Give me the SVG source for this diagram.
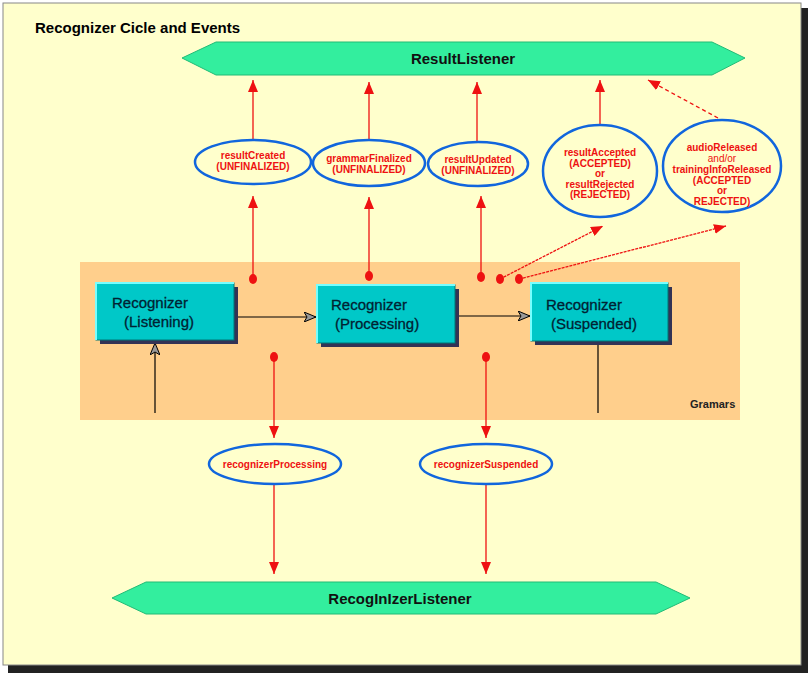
<svg xmlns="http://www.w3.org/2000/svg" width="810" height="675" viewBox="0 0 810 675">
<style>
text{font-family:"Liberation Sans",Arial,sans-serif;font-weight:bold}
.ev{fill:#fff;fill-opacity:0;stroke:#1166dd;stroke-width:2.5}
.evt{fill:#ee1111;font-size:10px;text-anchor:middle}
.red{stroke:#ee1111;stroke-width:1.3;fill:none}
.blk{stroke:#000;stroke-width:1.2;fill:none}
.box{fill:#00c8c8;stroke:#007777;stroke-width:1}
.bt{font-size:15px;fill:#002233;font-weight:normal;stroke:#002233;stroke-width:0.3}
.hex{fill:#33ee9e;stroke:#22bb77}
</style>
<defs>
<marker id="ra" markerWidth="12" markerHeight="10" refX="12" refY="5" orient="auto" markerUnits="userSpaceOnUse" viewBox="0 0 12 10"><path d="M0,0 L12,5 L0,10 Z" fill="#ee1111"/></marker>
<marker id="ba" markerWidth="12" markerHeight="10" refX="12" refY="5" orient="auto" markerUnits="userSpaceOnUse" viewBox="0 0 12 10"><path d="M0,0 L12,5 L0,10 L3,5 Z" fill="#999" stroke="#000" stroke-width="1"/></marker>
</defs>
<rect x="0" y="0" width="810" height="675" fill="#fff"/>
<rect x="8" y="8" width="800" height="665" fill="#222"/>
<rect x="3" y="3" width="798" height="662" fill="#ffffcc" stroke="#888" stroke-width="1"/>
<text x="35" y="33" font-size="15" fill="#000">Recognizer Cicle and Events</text>
<rect x="80" y="262" width="660" height="158" fill="#ffcf8c"/>
<text x="690" y="408" font-size="11" fill="#222">Gramars</text>
<g id="resultListener"><polygon class="hex" points="182,58 216,42 712,42 745,58 712,75 216,75"/><text x="463" y="64" font-size="15" text-anchor="middle" fill="#111">ResultListener</text></g>
<g id="recognizerListener"><polygon class="hex" points="112,598 146,582 656,582 690,598 656,614 146,614"/><text x="400" y="604" font-size="15" text-anchor="middle" fill="#111">RecogInIzerListener</text></g>
<g id="connectors">
<line class="red" x1="253" y1="279" x2="253" y2="196" marker-end="url(#ra)"/>
<line class="red" x1="369" y1="276" x2="369" y2="197" marker-end="url(#ra)"/>
<line class="red" x1="481" y1="277" x2="481" y2="196" marker-end="url(#ra)"/>
<path class="red" d="M500,279 L603,226" marker-end="url(#ra)" stroke-dasharray="3,1"/>
<path class="red" d="M519,279 L726,226" marker-end="url(#ra)" stroke-dasharray="3,1"/>
<line class="red" x1="253" y1="139" x2="253" y2="80" marker-end="url(#ra)"/>
<line class="red" x1="369" y1="139" x2="369" y2="82" marker-end="url(#ra)"/>
<line class="red" x1="477" y1="141" x2="477" y2="82" marker-end="url(#ra)"/>
<line class="red" x1="600" y1="124" x2="600" y2="80" marker-end="url(#ra)"/>
<line class="red" x1="718" y1="118" x2="648" y2="80" marker-end="url(#ra)" stroke-dasharray="4,3"/>
<line class="red" x1="274" y1="357" x2="274" y2="438" marker-end="url(#ra)"/>
<line class="red" x1="486" y1="357" x2="486" y2="438" marker-end="url(#ra)"/>
<line class="red" x1="274" y1="484" x2="274" y2="574" marker-end="url(#ra)"/>
<line class="red" x1="486" y1="484" x2="486" y2="574" marker-end="url(#ra)"/>
<g fill="#ee1111"><ellipse cx="253" cy="279" rx="4" ry="5"/><ellipse cx="369" cy="276" rx="4" ry="5"/><ellipse cx="481" cy="277" rx="4" ry="5"/><ellipse cx="500" cy="279" rx="4" ry="5"/><ellipse cx="519" cy="279" rx="4" ry="5"/><ellipse cx="274" cy="357" rx="4" ry="5"/><ellipse cx="486" cy="357" rx="4" ry="5"/></g>
<line class="blk" x1="235" y1="317" x2="316" y2="317" marker-end="url(#ba)"/>
<line class="blk" x1="456" y1="316" x2="530" y2="316" marker-end="url(#ba)"/>
<line class="blk" x1="155" y1="413" x2="155" y2="343" marker-end="url(#ba)"/>
<line class="blk" x1="598" y1="342" x2="598" y2="413"/>
</g>
<g id="listening"><rect x="100" y="287" width="138" height="57" fill="#335"/><rect class="box" x="96" y="283" width="138" height="57"/><polyline points="96,340 96,283 234,283" fill="none" stroke="#7ff" stroke-width="2"/><text class="bt" x="112" y="308">Recognizer</text><text class="bt" x="124" y="327">(Listening)</text></g>
<g id="processing"><rect x="321" y="289" width="138" height="58" fill="#335"/><rect class="box" x="317" y="285" width="138" height="58"/><polyline points="317,343 317,285 455,285" fill="none" stroke="#7ff" stroke-width="2"/><text class="bt" x="331" y="310">Recognizer</text><text class="bt" x="335" y="329">(Processing)</text></g>
<g id="suspended"><rect x="535" y="287" width="137" height="58" fill="#335"/><rect class="box" x="531" y="283" width="137" height="58"/><polyline points="531,341 531,283 668,283" fill="none" stroke="#7ff" stroke-width="2"/><text class="bt" x="546" y="310">Recognizer</text><text class="bt" x="551" y="329">(Suspended)</text></g>
<g id="resultCreated"><ellipse class="ev" cx="253" cy="162" rx="58" ry="22"/><text class="evt" x="253" y="159">resultCreated</text><text class="evt" x="253" y="170">(UNFINALIZED)</text></g>
<g id="grammarFinalized"><ellipse class="ev" cx="369" cy="163" rx="56" ry="23"/><text class="evt" x="369" y="162">grammarFinalized</text><text class="evt" x="369" y="173">(UNFINALIZED)</text></g>
<g id="resultUpdated"><ellipse class="ev" cx="478" cy="164" rx="50" ry="22"/><text class="evt" x="478" y="163">resultUpdated</text><text class="evt" x="478" y="174">(UNFINALIZED)</text></g>
<g id="resultAccepted"><ellipse class="ev" cx="600" cy="171" rx="57" ry="46"/><text class="evt" x="600" y="156">resultAccepted</text><text class="evt" x="600" y="167">(ACCEPTED)</text><text class="evt" x="600" y="177">or</text><text class="evt" x="600" y="188">resultRejected</text><text class="evt" x="600" y="198">(REJECTED)</text></g>
<g id="audioReleased"><ellipse class="ev" cx="722" cy="166" rx="59" ry="46"/><text class="evt" x="722" y="151">audioReleased</text><text class="evt" x="722" y="162" style="font-weight:normal">and/or</text><text class="evt" x="722" y="173">trainingInfoReleased</text><text class="evt" x="722" y="184">(ACCEPTED</text><text class="evt" x="722" y="194">or</text><text class="evt" x="722" y="205">REJECTED)</text></g>
<g id="recognizerProcessing"><ellipse class="ev" cx="275" cy="464" rx="66" ry="20"/><text class="evt" x="275" y="468">recognizerProcessing</text></g>
<g id="recognizerSuspended"><ellipse class="ev" cx="486" cy="464" rx="66" ry="20"/><text class="evt" x="486" y="468">recognizerSuspended</text></g>
</svg>
